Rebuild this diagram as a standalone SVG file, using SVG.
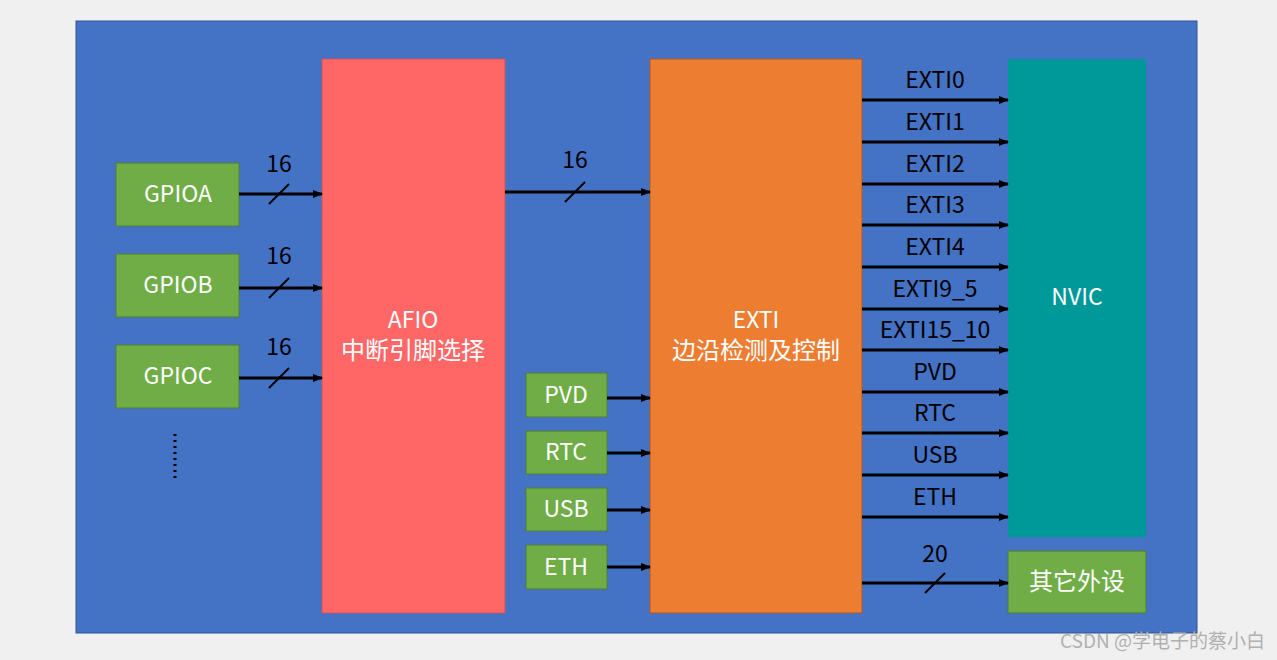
<svg xmlns="http://www.w3.org/2000/svg" width="1277" height="660" viewBox="0 0 1277 660">
<defs>
<marker id="ah" markerWidth="10" markerHeight="8" refX="9" refY="4" orient="auto" markerUnits="userSpaceOnUse"><path d="M0,0 L10,4 L0,8 z" fill="#000"/></marker>
<style>
text{font-family:"Noto Sans CJK SC","Noto Sans",sans-serif;font-size:23px;text-anchor:middle}
.w{fill:#fff}
.b{fill:#000}
.g{fill:#70ad47;stroke:#507e32;stroke-width:1}
.ln{stroke:#000;stroke-width:3;fill:none;marker-end:url(#ah)}
.sl{stroke:#000;stroke-width:2}
</style>
</defs>
<rect width="1277" height="660" fill="#f0f0f0"/>
<rect x="76" y="21" width="1121" height="612" fill="#4472c4" stroke="#2f528f"/>
<g id="gpioa"><rect class="g" x="116" y="163" width="123" height="63"/><text class="w" x="178" y="202">GPIOA</text></g>
<g id="gpiob"><rect class="g" x="116" y="254" width="123" height="63"/><text class="w" x="178" y="293">GPIOB</text></g>
<g id="gpioc"><rect class="g" x="116" y="345" width="123" height="63"/><text class="w" x="178" y="384">GPIOC</text></g>
<g id="afio"><rect x="322" y="59" width="183" height="554" fill="#ff6666" stroke="#c55"/><text class="w" x="413" y="328">AFIO</text><text class="w" x="413" y="359" style="font-size:24px">中断引脚选择</text></g>
<g id="exti"><rect x="650" y="59" width="212" height="554" fill="#ed7d31" stroke="#ae5a21"/><text class="w" x="756" y="328">EXTI</text><text class="w" x="756" y="359" style="font-size:24px">边沿检测及控制</text></g>
<g id="nvic"><rect x="1008" y="59" width="138" height="478" fill="#009999"/><text class="w" x="1077" y="305">NVIC</text></g>
<g id="other"><rect class="g" x="1008" y="551" width="138" height="62"/><text class="w" x="1077" y="590" style="font-size:24px">其它外设</text></g>
<g id="pvd"><rect class="g" x="526" y="373" width="81" height="44"/><text class="w" x="566" y="403">PVD</text></g>
<g id="rtc"><rect class="g" x="526" y="431" width="81" height="43"/><text class="w" x="566" y="460">RTC</text></g>
<g id="usb"><rect class="g" x="526" y="488" width="81" height="43"/><text class="w" x="566" y="517">USB</text></g>
<g id="eth"><rect class="g" x="526" y="545" width="81" height="44"/><text class="w" x="566" y="575">ETH</text></g>
<g id="connectors">
<line class="ln" x1="239" y1="194" x2="322" y2="194"/><line class="sl" x1="269" y1="204" x2="289" y2="184"/><text class="b" x="279" y="172">16</text>
<line class="ln" x1="239" y1="288" x2="322" y2="288"/><line class="sl" x1="269" y1="298" x2="289" y2="278"/><text class="b" x="279" y="264">16</text>
<line class="ln" x1="239" y1="378" x2="322" y2="378"/><line class="sl" x1="269" y1="388" x2="289" y2="368"/><text class="b" x="279" y="355">16</text>
<line x1="175" y1="434" x2="175" y2="478" stroke="#000" stroke-width="3" stroke-dasharray="2,4"/>
<line class="ln" x1="505" y1="192" x2="650" y2="192"/><line class="sl" x1="565" y1="202" x2="585" y2="182"/><text class="b" x="575" y="168">16</text>
<line class="ln" x1="607" y1="398" x2="650" y2="398"/>
<line class="ln" x1="607" y1="453" x2="650" y2="453"/>
<line class="ln" x1="607" y1="510" x2="650" y2="510"/>
<line class="ln" x1="607" y1="567" x2="650" y2="567"/>
<line class="ln" x1="862" y1="100" x2="1008" y2="100"/><text class="b" x="935" y="88">EXTI0</text>
<line class="ln" x1="862" y1="142" x2="1008" y2="142"/><text class="b" x="935" y="130">EXTI1</text>
<line class="ln" x1="862" y1="184" x2="1008" y2="184"/><text class="b" x="935" y="172">EXTI2</text>
<line class="ln" x1="862" y1="225" x2="1008" y2="225"/><text class="b" x="935" y="213">EXTI3</text>
<line class="ln" x1="862" y1="267" x2="1008" y2="267"/><text class="b" x="935" y="255">EXTI4</text>
<line class="ln" x1="862" y1="309" x2="1008" y2="309"/><text class="b" x="935" y="297">EXTI9_5</text>
<line class="ln" x1="862" y1="350" x2="1008" y2="350"/><text class="b" x="935" y="338">EXTI15_10</text>
<line class="ln" x1="862" y1="392" x2="1008" y2="392"/><text class="b" x="935" y="380">PVD</text>
<line class="ln" x1="862" y1="433" x2="1008" y2="433"/><text class="b" x="935" y="421">RTC</text>
<line class="ln" x1="862" y1="475" x2="1008" y2="475"/><text class="b" x="935" y="463">USB</text>
<line class="ln" x1="862" y1="517" x2="1008" y2="517"/><text class="b" x="935" y="505">ETH</text>
<line class="ln" x1="862" y1="583" x2="1008" y2="583"/><line class="sl" x1="925" y1="593" x2="945" y2="573"/><text class="b" x="935" y="562">20</text>
</g>
<text x="1265" y="648" style="text-anchor:end;font-size:19px;fill:#b0b0b0">CSDN @学电子的蔡小白</text>
</svg>
